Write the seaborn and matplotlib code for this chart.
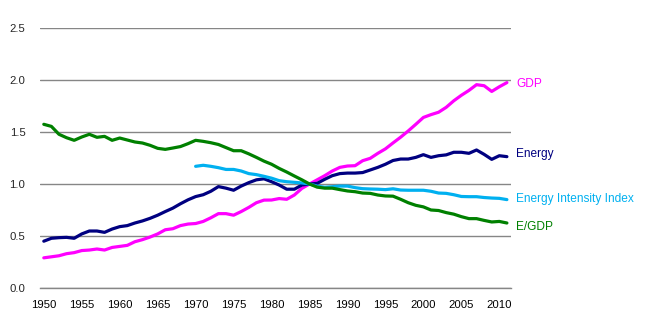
import numpy as np
import pandas as pd
import matplotlib
matplotlib.use("Agg")
import matplotlib.pyplot as plt
import seaborn as sns
from matplotlib.ticker import FixedLocator

years = list(range(1950, 2012))

gdp = [0.29, 0.30, 0.31, 0.33, 0.34, 0.36, 0.365, 0.375, 0.365, 0.39,
       0.40, 0.41, 0.445, 0.465, 0.49, 0.52, 0.56, 0.57, 0.60, 0.615,
       0.62, 0.64, 0.675, 0.715, 0.715, 0.70, 0.735, 0.775, 0.82, 0.845,
       0.846, 0.86, 0.853, 0.894, 0.958, 1.0, 1.04, 1.08, 1.125, 1.16,
       1.173, 1.176, 1.224, 1.247, 1.295, 1.338, 1.395, 1.45, 1.51, 1.574,
       1.64, 1.667, 1.69, 1.737, 1.80, 1.853, 1.90, 1.955, 1.945, 1.89,
       1.935, 1.975]

energy = [0.45, 0.478, 0.484, 0.487, 0.478, 0.52, 0.548, 0.548, 0.535, 0.567,
          0.59, 0.60, 0.625, 0.645, 0.67, 0.70, 0.735, 0.768, 0.81, 0.848,
          0.879, 0.897, 0.93, 0.975, 0.96, 0.94, 0.98, 1.013, 1.04, 1.05,
          1.022, 0.99, 0.95, 0.95, 0.99, 1.0, 1.006, 1.045, 1.08, 1.10,
          1.105, 1.105, 1.11, 1.135, 1.16, 1.19, 1.226, 1.24, 1.24, 1.256,
          1.282, 1.256, 1.272, 1.28, 1.305, 1.305, 1.295, 1.327, 1.285, 1.237,
          1.272, 1.263]

intensity = [np.nan] * 20 + [
          1.17, 1.18, 1.17, 1.157, 1.14, 1.14, 1.125, 1.10, 1.09, 1.074,
          1.056, 1.032, 1.022, 1.016, 1.01, 1.0, 0.98, 0.968, 0.974, 0.98,
          0.98, 0.965, 0.955, 0.952, 0.95, 0.946, 0.954, 0.942, 0.94, 0.94,
          0.94, 0.93, 0.913, 0.91, 0.897, 0.88, 0.878, 0.878, 0.87, 0.865,
          0.862, 0.85]

egdp = [1.574, 1.554, 1.478, 1.445, 1.42, 1.452, 1.478, 1.449, 1.458, 1.42,
        1.442, 1.423, 1.404, 1.394, 1.372, 1.343, 1.333, 1.346, 1.36, 1.388,
        1.42, 1.41, 1.397, 1.38, 1.35, 1.32, 1.32, 1.29, 1.256, 1.22,
        1.19, 1.15, 1.115, 1.077, 1.04, 1.0, 0.97, 0.96, 0.96, 0.946,
        0.933, 0.926, 0.913, 0.91, 0.894, 0.885, 0.883, 0.853, 0.82, 0.795,
        0.78, 0.75, 0.745, 0.725, 0.71, 0.686, 0.667, 0.667, 0.65, 0.635,
        0.64, 0.625]

series_names = ["GDP", "Energy", "Energy Intensity Index", "E/GDP"]
colors = ["#FF00FF", "#000080", "#00B0F0", "#008000"]
label_y = [1.96, 1.29, 0.86, 0.59]
y_ticks = [0.0, 0.5, 1.0, 1.5, 2.0, 2.5]
x_ticks = list(range(1950, 2011, 5))

df = pd.DataFrame({"Year": years, "GDP": gdp, "Energy": energy,
                   "Energy Intensity Index": intensity, "E/GDP": egdp})
long = df.melt(id_vars="Year", var_name="Series", value_name="Value").dropna()

sns.set_theme(style="white")
plt.rcParams["font.family"] = ["Liberation Sans", "DejaVu Sans"]

fig = plt.figure(figsize=(6.5, 3.31), dpi=100)
ax = fig.add_axes([40 / 650, 43 / 331, 470.7 / 650, 260 / 331])

sns.lineplot(data=long, x="Year", y="Value", hue="Series",
             hue_order=series_names, palette=dict(zip(series_names, colors)),
             linewidth=2.3, legend=False, ax=ax, zorder=3)

ax.set_xlim(1949.5, 2011.5)
ax.set_ylim(0, 2.5)
ax.set_yticks(y_ticks)
ax.set_yticklabels([f"{v:.1f}" for v in y_ticks])
ax.set_xticks(x_ticks)
ax.set_xticklabels([str(v) for v in x_ticks])
ax.xaxis.set_minor_locator(FixedLocator([v - 0.5 for v in x_ticks]))
ax.tick_params(axis="x", which="major", length=0, pad=9, labelsize=8.2,
               colors="#000000")
ax.tick_params(axis="x", which="minor", length=5, width=1, color="#868686",
               direction="out")
ax.tick_params(axis="y", length=0, pad=10.5, labelsize=8.2)
ax.set_xlabel("")
ax.set_ylabel("")

ax.grid(axis="y", color="#868686", linewidth=1.0)
ax.set_axisbelow(True)
for s in ["left", "right", "top"]:
    ax.spines[s].set_visible(False)
ax.spines["bottom"].set_color("#868686")
ax.spines["bottom"].set_linewidth(1.0)

for name, col, yv in zip(series_names, colors, label_y):
    ax.text(2012.2, yv, name, color=col, fontsize=8.6, va="center",
            ha="left", clip_on=False)

fig.savefig("out.png", dpi=100)
